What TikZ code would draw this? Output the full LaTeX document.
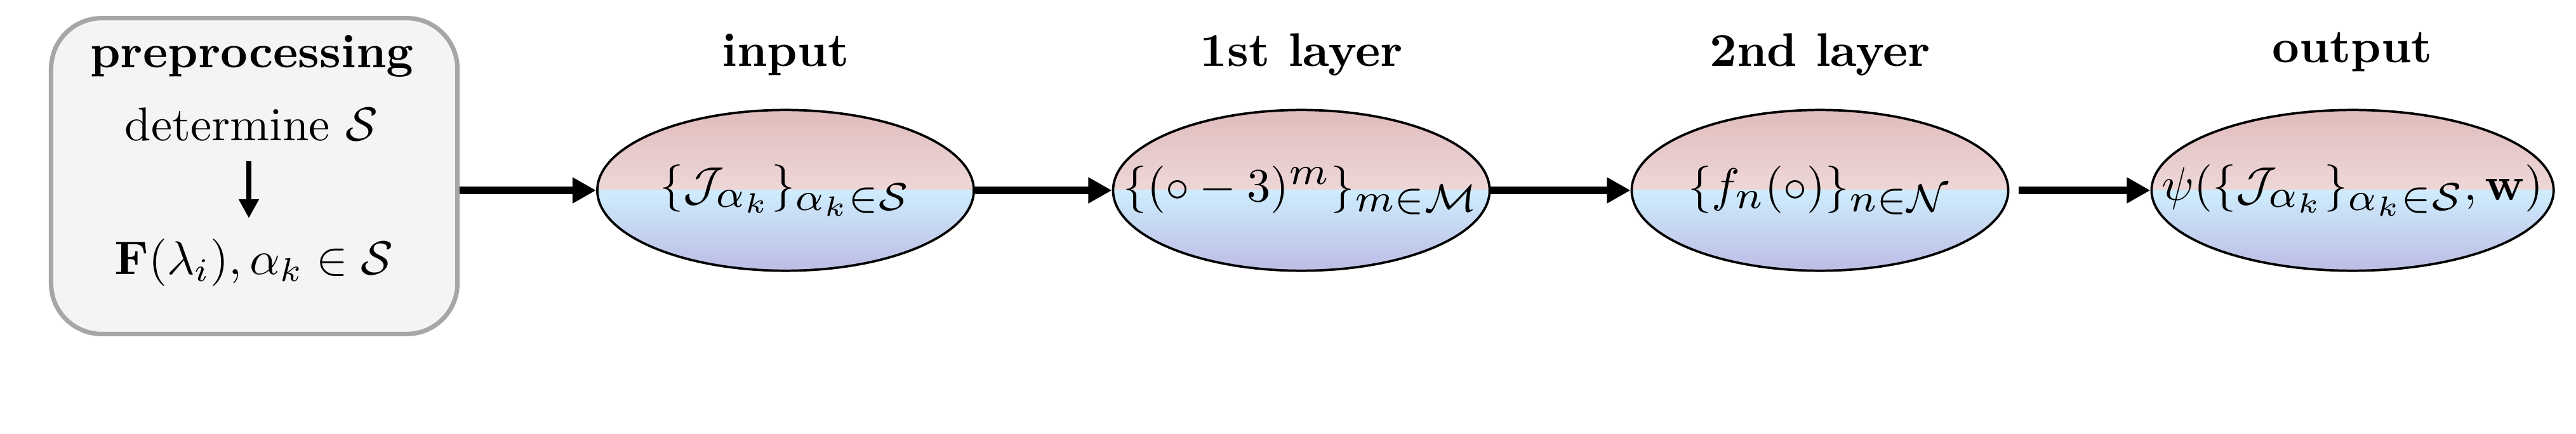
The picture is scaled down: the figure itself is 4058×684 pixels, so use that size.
\documentclass[tikz,border=0pt]{standalone}
\usepackage{graphicx}
\usetikzlibrary{arrows.meta,shapes.geometric}
\definecolor{boxgray}{RGB}{166,166,166}
\definecolor{boxfill}{RGB}{244,244,244}
\definecolor{pinktop}{RGB}{224,188,188}
\definecolor{pinkmid}{RGB}{252,242,244}
\definecolor{bluemid}{RGB}{206,236,253}
\definecolor{bluebot}{RGB}{188,189,228}
\newcommand{\bigsub}[1]{\scalebox{1.18}{$\scriptstyle #1$}}
\newcommand{\fixw}[1]{\makebox[0pt]{$#1$}}
\tikzset{
  prebox/.style={draw=boxgray, line width=0.95pt, fill=boxfill, rounded corners=10.7pt,
    minimum width=85.9pt, minimum height=66.8pt, inner sep=0pt},
  layer/.style={ellipse, draw=black, line width=0.5pt, minimum width=79.6pt,
    minimum height=34pt, inner sep=0pt,
    path picture={
      \fill[top color=pinktop, bottom color=pinkmid]
        (path picture bounding box.north west) rectangle (path picture bounding box.east);
      \fill[top color=bluemid, bottom color=bluebot]
        (path picture bounding box.west) rectangle (path picture bounding box.south east);
    }},
  title/.style={font=\bfseries, anchor=base, inner sep=0pt},
  plain/.style={anchor=base, inner sep=0pt},
  flow/.style={line width=1.6pt, -{Triangle[length=5pt,width=5.2pt]}},
  innerarrow/.style={line width=1pt, -{Triangle[length=4pt,width=4pt]}},
}
\begin{document}
\begin{tikzpicture}[x=0.1342pt, y=-0.1342pt]
\useasboundingbox (0,0) rectangle (4058,684);
% preprocessing box
\node[prebox] (pre) at (400.5,277.5) {};
\node[title] (pretitle) at (397,107) {preprocessing};
\node[plain] (det) at (396,222) {determine $\mathcal{S}$};
\node[plain] (F) at (400,432) {$\mathbf{F}(\lambda_i), \alpha_k \in \mathcal{S}$};
\coordinate (arrtop) at (392,254);
\coordinate (arrbot) at (392,344);
\draw[innerarrow] (arrtop) -- (arrbot);
% layers
\node[layer] (in) at (1237.5,300) {\fixw{\{\mathcal{J}_{\bigsub{\alpha_k}}\}_{\bigsub{\alpha_k\in\mathcal{S}}}}};
\node[layer] (l1) at (2050,300) {\fixw{\{(\circ-3)^{\bigsub{m}}\}_{\bigsub{m\in\mathcal{M}}}}};
\node[layer] (l2) at (2867,300) {\fixw{\{f_{\bigsub{n}}(\circ)\}_{\bigsub{n\in\mathcal{N}}}}};
\node[layer, minimum width=85pt] (out) at (3706,300) {\fixw{\psi(\{\mathcal{J}_{\bigsub{\alpha_k}}\}_{\bigsub{\alpha_k\in\mathcal{S}}}, \mathbf{w})}};
% titles
\node[title] (tin) at (1237.5,105) {input};
\node[title] (tl1) at (2050,105) {1st layer};
\node[title] (tl2) at (2867,105) {2nd layer};
\node[title] (tout) at (3706,99) {output};
% arrows
\draw[flow] (pre.east |- in.west) -- (in.west);
\draw[flow] (in.east) -- (l1.west);
\draw[flow] (l1.east) -- (l2.west);
\draw[flow, shorten <=1.9pt] (l2.east) -- (out.west);
\end{tikzpicture}
\end{document}
